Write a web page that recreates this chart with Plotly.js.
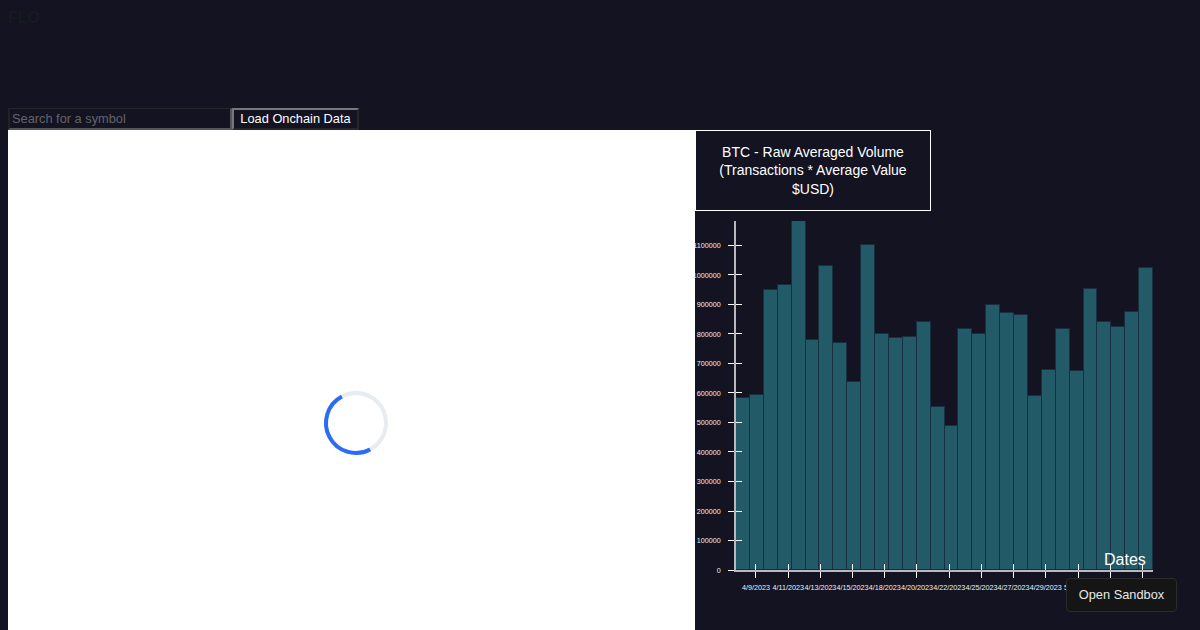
<!DOCTYPE html>
<html><head><meta charset="utf-8">
<script src="https://cdn.plot.ly/plotly-3.0.1.min.js"></script>
<style>
html,body{margin:0;padding:0;width:1200px;height:630px;overflow:hidden;background:#131322;font-family:"Liberation Sans",Arial,sans-serif;}
#chart{position:absolute;left:0;top:0;width:1200px;height:630px;}
#logo{position:absolute;left:8px;top:9px;font-size:16px;font-weight:bold;color:#141c1e;}
#search{position:absolute;left:8px;top:108px;width:224px;height:22px;box-sizing:border-box;background:#131322;border:2px solid;border-color:#22222a #55555c #55555c #22222a;border-top-width:1px;color:#fff;font:12.8px "Liberation Sans",sans-serif;padding:0 2px;outline:none;}
#search::placeholder{color:#63636c;opacity:1;}
#load{position:absolute;left:232px;top:108px;width:127px;height:22px;box-sizing:border-box;background:#131322;border:2px solid;border-color:#77777c #26262c #26262c #77777c;color:#fff;font:12.8px "Liberation Sans",sans-serif;padding:0 0 1px 0;}
#panel{position:absolute;left:8px;top:130px;width:687px;height:500px;background:#fff;z-index:5;}
#spin{position:absolute;left:8px;top:130px;z-index:6;}
#box{position:absolute;left:695px;top:130px;width:236px;height:81px;box-sizing:border-box;border:1px solid #fff;pointer-events:none;z-index:6;}
#sandbox{position:absolute;left:1066px;top:578px;width:111px;height:34px;box-sizing:border-box;background:#151515;border:1px solid #2b2b2b;border-radius:4px;color:#e8e8e8;font:12.8px "Liberation Sans",sans-serif;padding:0 0 1px 0;z-index:7;}
</style></head>
<body>
<div id="chart"></div>
<div id="logo">FLO</div>
<input id="search" placeholder="Search for a symbol">
<button id="load">Load Onchain Data</button>
<div id="panel"></div>
<svg id="spin" width="687" height="500">
<circle cx="348" cy="293" r="30" fill="none" stroke="#e6ecef" stroke-width="4"/>
<path d="M333.9 266.5 A30 30 0 0 0 362.1 319.5" fill="none" stroke="#2a6cf6" stroke-width="4"/>
</svg>
<div id="box"></div>
<button id="sandbox">Open Sandbox</button>
<script>
const dates = ["2023-04-08","2023-04-09","2023-04-10","2023-04-11","2023-04-12","2023-04-13","2023-04-14","2023-04-15","2023-04-16","2023-04-17","2023-04-18","2023-04-19","2023-04-20","2023-04-21","2023-04-22","2023-04-23","2023-04-24","2023-04-25","2023-04-26","2023-04-27","2023-04-28","2023-04-29","2023-04-30","2023-05-01","2023-05-02","2023-05-03","2023-05-04","2023-05-05","2023-05-06","2023-05-07"];
const volume = [583000,592000,949000,965000,1183000,780000,1030000,770000,636000,1100000,800000,787000,790000,840000,553000,489000,817000,800000,897000,870000,864000,590000,678000,817000,673000,951000,840000,823000,873000,1023000];
const xTickVals = ["2023-04-08 22:30","2023-04-11 06:06","2023-04-13 13:42","2023-04-15 21:18","2023-04-18 04:54","2023-04-20 12:30","2023-04-22 20:06","2023-04-25 03:42","2023-04-27 11:18","2023-04-29 18:54","2023-05-02 02:30","2023-05-04 10:06","2023-05-06 17:42"];
const xTickText = ["4/9/2023","4/11/2023","4/13/2023","4/15/2023","4/18/2023","4/20/2023","4/22/2023","4/25/2023","4/27/2023","4/29/2023","5/2/2023","5/4/2023","5/6/2023"];
const yTickVals = [0,100000,200000,300000,400000,500000,600000,700000,800000,900000,1000000,1100000];
const xRange = ["2023-04-07 12:00","2023-05-07 12:00"];
const yRange = [0,1183000];
const titleText = "BTC - Raw Averaged Volume<br>(Transactions * Average Value<br>$USD)";

const tickStyle = {tickcolor:"#ffffff",tickwidth:1,ticklen:6,showgrid:false,zeroline:false};
const traces = [
 {type:"bar",x:dates,y:volume,marker:{color:"#225a67",line:{color:"#182f42",width:1}},hoverinfo:"x+y"},
 {type:"scatter",mode:"none",x:dates,y:volume,xaxis:"x2",yaxis:"y2",hoverinfo:"skip",showlegend:false}
];
const layout = {
 width:1200,height:630,
 paper_bgcolor:"rgba(0,0,0,0)",plot_bgcolor:"rgba(0,0,0,0)",
 margin:{l:736,r:47,t:221,b:59.5,pad:0},
 bargap:0,showlegend:false,
 font:{family:"Liberation Sans, Arial, sans-serif",color:"#f0f0f0"},
 title:{text:titleText,font:{size:14,color:"#ffffff",family:"Liberation Sans, Arial, sans-serif"},xref:"container",yref:"container",x:0.6775,xanchor:"center",y:0.7505,yanchor:"bottom",pad:{t:0,b:0}},
 xaxis:Object.assign({type:"date",range:xRange,tickmode:"array",tickvals:xTickVals,ticktext:xTickText,ticks:"outside",tickangle:0,tickfont:{size:7.2,color:"#f0f0f0"},showline:true,linecolor:"#b8b8be",linewidth:1.5,ticklabelstandoff:4,automargin:false},tickStyle),
 yaxis:Object.assign({range:yRange,tickmode:"array",tickvals:yTickVals,ticktext:yTickVals.map(String),ticks:"outside",tickfont:{size:7.2,color:"#f0f0f0"},showline:true,linecolor:"#b8b8be",linewidth:1.5,ticklabelstandoff:6,automargin:false},tickStyle),
 xaxis2:Object.assign({type:"date",overlaying:"x",anchor:"y2",range:xRange,tickmode:"array",tickvals:xTickVals,ticks:"inside",showticklabels:false},tickStyle),
 yaxis2:Object.assign({overlaying:"y",anchor:"x2",range:yRange,tickmode:"array",tickvals:yTickVals,ticks:"inside",showticklabels:false},tickStyle),
 annotations:[{text:"Dates",xref:"paper",yref:"paper",x:0.9892,y:0,xanchor:"right",yanchor:"bottom",yshift:0,showarrow:false,font:{size:16,color:"#ffffff"}}]
};
Plotly.newPlot("chart",traces,layout,{displayModeBar:false});
</script>
</body></html>
